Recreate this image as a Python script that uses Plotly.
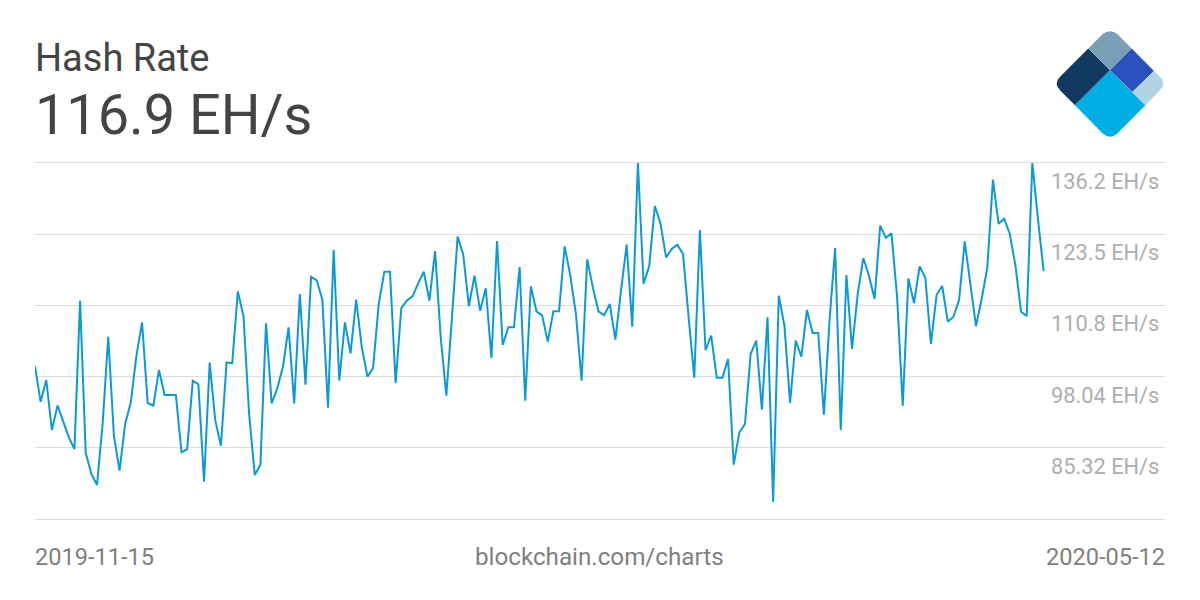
import pandas as pd
import plotly.graph_objects as go

W, H = 1200, 600
L, R, T, B = 35, 1165, 162.7, 518.6

start_date = "2019-11-15"
end_date = "2020-05-12"

hash_rate = [
    99.87, 93.56, 97.43, 88.50, 92.90, 89.87, 87.19, 85.10, 111.60, 84.45,
    80.64, 78.67, 89.57, 105.17, 87.48, 81.23, 89.57, 93.44, 101.78, 107.73,
    93.32, 92.84, 99.22, 94.75, 94.75, 94.75, 84.51, 85.10, 97.31, 96.65,
    79.27, 100.53, 90.16, 85.70, 100.59, 100.41, 113.27, 108.80, 91.36, 80.46,
    82.30, 107.55, 93.26, 95.94, 99.81, 106.84, 93.26, 112.79, 96.60, 115.89,
    115.24, 111.78, 92.49, 120.71, 97.31, 107.73, 102.19, 111.78, 103.27, 98.03,
    99.57, 111.01, 116.78, 116.78, 96.89, 110.23, 111.66, 112.38, 114.70, 116.78,
    111.60, 120.48, 105.05, 94.63, 108.62, 123.04, 119.82, 110.65, 116.07, 109.82,
    113.81, 101.36, 122.26, 103.68, 106.84, 106.84, 117.62, 93.74, 114.16, 109.70,
    108.98, 104.28, 109.70, 109.70, 121.31, 116.07, 109.22, 97.31, 118.99, 113.98,
    109.70, 108.98, 111.01, 104.64, 113.39, 121.61, 106.96, 136.20, 114.64, 117.74,
    128.51, 125.42, 119.34, 120.83, 121.61, 119.94, 108.62, 97.85, 124.23, 102.79,
    105.35, 97.85, 97.85, 101.18, 82.30, 88.08, 89.57, 102.07, 104.46, 92.13,
    108.62, 75.63, 112.50, 107.14, 93.32, 104.46, 101.60, 109.94, 105.83, 105.83,
    91.24, 108.03, 121.01, 88.50, 116.19, 102.97, 112.79, 119.22, 116.07, 111.90,
    125.00, 122.86, 123.63, 112.20, 92.84, 115.59, 111.19, 117.74, 115.71, 103.86,
    112.61, 114.22, 107.85, 108.74, 111.78, 122.20, 114.58, 107.08, 111.90, 117.44,
    133.22, 125.36, 126.25, 123.51, 117.86, 109.64, 108.86, 136.20, 126.19, 116.90,
]
grid_values = [136.2, 123.5, 110.8, 98.04, 85.32, 72.6]
grid_labels = ["136.2 EH/s", "123.5 EH/s", "110.8 EH/s", "98.04 EH/s", "85.32 EH/s"]

dates = pd.date_range(start_date, end_date, freq="D")


def px(x):
    return (x - L) / (R - L)


def py(y):
    return (B - y) / (B - T)


def logo_path(points):
    # points are in screen pixels, 4 numbers means a rounded corner
    out = []
    for p in points:
        if len(p) == 2:
            out.append(f"{'L' if out else 'M'} {px(p[0]):.5f} {py(p[1]):.5f}")
        else:
            out.append(f"Q {px(p[0]):.5f} {py(p[1]):.5f} {px(p[2]):.5f} {py(p[3]):.5f}")
    return " ".join(out) + " Z"


logo_parts = [
    ("#123962", [(1088.3, 48.3), (1110, 70), (1075, 105), (1060.5, 90.5), (1053, 83.3, 1060.5, 76)]),
    ("#7aa0b8", [(1088.3, 48.3), (1102.5, 34), (1110, 28, 1117.5, 34), (1131.7, 48.3), (1110, 70)]),
    ("#2a52be", [(1131.7, 48.3), (1154, 70.7), (1132.3, 91.7), (1110, 70)]),
    ("#b1d4e5", [(1154, 70.7), (1159.5, 76), (1167, 83.3, 1159.5, 90.5), (1145.3, 105), (1132.3, 91.7)]),
    ("#00aee6", [(1110, 70), (1145.3, 105), (1117.5, 133), (1110, 140, 1102.5, 133), (1075, 105)]),
]

fig = go.Figure(go.Scatter(
    x=dates, y=hash_rate, mode="lines",
    line=dict(color="#0a9bd6", width=2), hoverinfo="skip",
))

anns = []
for val, lab in zip(grid_values, grid_labels):
    anns.append(dict(xref="paper", yref="y", x=px(1161), y=val, yshift=-18.5, text=lab,
                     xanchor="right", yanchor="middle", showarrow=False,
                     font=dict(family="Roboto", size=21.8, color="#aeaeae")))
text_items = [
    ("Hash Rate", 32.5, 58, "left", 38, "#444444"),
    ("116.9 EH/s", 33, 115, "left", 55.8, "#444444"),
    ("2019-11-15", 33, 557, "left", 23.6, "#808080"),
    ("blockchain.com/charts", 599.5, 557, "center", 24.2, "#808080"),
    ("2020-05-12", 1167, 557, "right", 23.6, "#808080"),
]
for txt, x, y, anchor, size, col in text_items:
    anns.append(dict(xref="paper", yref="paper", x=px(x), y=py(y), text=txt,
                     xanchor=anchor, yanchor="middle", showarrow=False,
                     font=dict(family="Roboto", size=size, color=col)))

fig.update_layout(
    width=W, height=H, autosize=False,
    margin=dict(l=L, r=W - R, t=T, b=H - B, pad=0),
    paper_bgcolor="white", plot_bgcolor="white",
    showlegend=False,
    xaxis=dict(range=["2019-11-15", "2020-06-02 13:00"], showticklabels=False, ticks="",
               showgrid=False, zeroline=False, showline=True, mirror=True,
               linecolor="#dddddd", linewidth=1),
    yaxis=dict(range=[grid_values[-1], grid_values[0]], tickvals=grid_values,
               showticklabels=False, ticks="", zeroline=False, showline=False,
               gridcolor="#dddddd", gridwidth=1),
    annotations=anns,
    shapes=[dict(type="path", xref="paper", yref="paper", path=logo_path(pts),
                 fillcolor=col, line=dict(width=0), layer="above") for col, pts in logo_parts],
)

fig.write_html("out.html", config={"displayModeBar": False},
               post_script="document.body.style.margin='0';")
